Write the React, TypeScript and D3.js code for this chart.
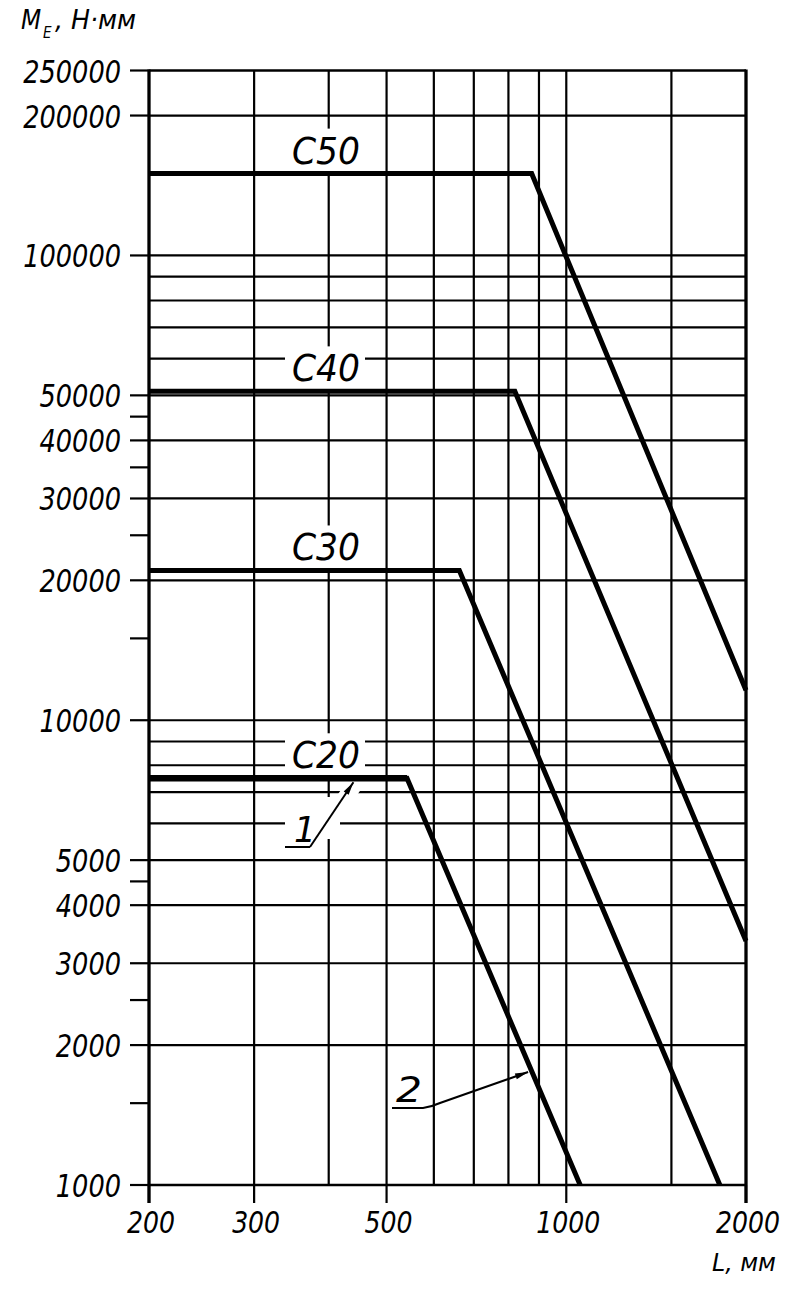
import * as d3 from 'd3';

// chart values
const seriesNames = ['C50', 'C40', 'C30', 'C20'];
const startL = [200, 200, 200, 200];
const flatM = [150000, 51000, 21000, 7500];
const breakL = [875, 820, 662, 541];
const endL = [2000, 2000, 1808, 1055];
const endM = [11600, 3350, 1000, 1000];

const xGrid = [300, 400, 500, 600, 700, 800, 900, 1000, 1500];
const xLabels = [200, 300, 500, 1000, 2000];
const yGrid = [
  200000, 100000, 90000, 80000, 70000, 60000, 50000, 40000, 30000, 20000,
  10000, 9000, 8000, 7000, 6000, 5000, 4000, 3000, 2000,
];
const yLabels = [250000, 200000, 100000, 50000, 40000, 30000, 20000, 10000, 5000, 4000, 3000, 2000, 1000];
const yMinor = [45000, 35000, 25000, 15000, 4500, 2500, 1500];

const W = 804;
const H = 1299;
const FONT = '"DejaVu Sans Condensed", "DejaVu Sans", sans-serif';

export default function App() {
  const x = d3.scaleLog().domain([200, 2000]).range([149, 746]);
  const y = d3.scaleLog().domain([1000, 250000]).range([1185, 70.5]);
  const [x0, x1] = x.range();
  const [y0, y1] = y.range();

  const line = d3
    .line<[number, number]>()
    .x((d) => x(d[0]))
    .y((d) => y(d[1]));

  const series = seriesNames.map((name, i) => ({
    name,
    points: [
      [startL[i], flatM[i]],
      [breakL[i], flatM[i]],
      [endL[i], endM[i]],
    ] as [number, number][],
  }));

  // ── annotation geometry ──
  const c20 = series[3];
  const tip1: [number, number] = [x(440), y(flatM[3]) + 4];
  // point on the sloped part of C20 at M = 1750
  const mArrow = 1750;
  const t = (Math.log(flatM[3]) - Math.log(mArrow)) / (Math.log(flatM[3]) - Math.log(endM[3]));
  const lArrow = Math.exp(Math.log(breakL[3]) + t * (Math.log(endL[3]) - Math.log(breakL[3])));
  const tip2: [number, number] = [x(lArrow) - 4, y(mArrow)];

  const arrowHead = (from: [number, number], tip: [number, number]) => {
    const dx = tip[0] - from[0];
    const dy = tip[1] - from[1];
    const len = Math.hypot(dx, dy);
    const ux = dx / len;
    const uy = dy / len;
    const bx = tip[0] - ux * 13;
    const by = tip[1] - uy * 13;
    return `M${tip[0]},${tip[1]}L${bx - uy * 3},${by + ux * 3}L${bx + uy * 3},${by - ux * 3}Z`;
  };

  const lead1Start: [number, number] = [310, 847];
  const lead2Path = `M392,1108L423,1108Q431,1107 440,1103L${tip2[0]},${tip2[1]}`;

  return (
    <svg width={W} height={H} style={{ position: 'absolute', left: 0, top: 0, background: '#fff' }}>
      <rect x={0} y={0} width={W} height={H} fill="#fff" />

      {/* ── grid ── */}
      <g stroke="#000" strokeWidth={2.2}>
        {yGrid.map((v) => (
          <line key={'hy' + v} x1={x0} x2={x1} y1={y(v)} y2={y(v)} />
        ))}
        {xGrid.map((v) => (
          <line key={'vx' + v} x1={x(v)} x2={x(v)} y1={y1} y2={y0} />
        ))}
        {xLabels.map((v) => (
          <line key={'tx' + v} x1={x(v)} x2={x(v)} y1={y0} y2={y0 + 18} />
        ))}
        {yLabels.map((v) => (
          <line key={'ty' + v} x1={130} x2={x0} y1={y(v)} y2={y(v)} />
        ))}
        {yMinor.map((v) => (
          <line key={'my' + v} x1={130} x2={x0} y1={y(v)} y2={y(v)} />
        ))}
        <line x1={x0} x2={x1} y1={y1} y2={y1} strokeWidth={2.5} />
        <line x1={x0} x2={x1} y1={y0} y2={y0} strokeWidth={2.6} />
        <line x1={x0} x2={x0} y1={y1 - 1} y2={y0 + 18} strokeWidth={3.3} />
        <line x1={x1} x2={x1} y1={y1 - 1} y2={y0 + 18} strokeWidth={3.3} />
      </g>

      {/* ── white backgrounds for labels ── */}
      <g fill="#fff">
        {series.map((s, i) => (
          <rect
            key={'bg' + s.name}
            x={285}
            y={y(flatM[i]) - 45}
            width={80}
            height={43}
          />
        ))}
        <rect x={285} y={797} width={55} height={42} />
      </g>
      <line
        x1={lead1Start[0]}
        y1={lead1Start[1]}
        x2={tip1[0]}
        y2={tip1[1] + 4}
        stroke="#fff"
        strokeWidth={16}
      />

      {/* ── curves ── */}
      <g fill="none" stroke="#000" strokeWidth={5} strokeLinejoin="miter">
        {series.map((s) => (
          <path key={s.name} d={line(s.points) ?? ''} />
        ))}
        <path d={line(c20.points.slice(0, 2)) ?? ''} strokeWidth={6.5} />
      </g>

      {/* ── series labels ── */}
      <g fontFamily={FONT} fontStyle="italic" fontSize={38} fill="#000">
        {series.map((s, i) => (
          <text
            key={'lbl' + s.name}
            x={292}
            y={y(flatM[i]) - 10}
            textLength={68}
            lengthAdjust="spacingAndGlyphs"
          >
            {s.name}
          </text>
        ))}
      </g>

      {/* ── annotations ── */}
      <g stroke="#000" strokeWidth={2} fill="none">
        <line x1={285} x2={lead1Start[0]} y1={847} y2={847} />
        <line x1={lead1Start[0]} y1={lead1Start[1]} x2={tip1[0]} y2={tip1[1]} />
        <path d={lead2Path} />
      </g>
      <path d={arrowHead(lead1Start, tip1)} fill="#000" />
      <path d={arrowHead([440, 1103], tip2)} fill="#000" />
      <g fontFamily={FONT} fontStyle="italic" fontSize={36} fill="#000">
        <text x={294} y={842} textLength={22} lengthAdjust="spacingAndGlyphs">1</text>
        <text x={396} y={1102} textLength={26} lengthAdjust="spacingAndGlyphs">2</text>
      </g>

      {/* ── tick labels ── */}
      <g fontFamily={FONT} fontStyle="italic" fontSize={32} fill="#000">
        {yLabels.map((v) => (
          <text
            key={'yl' + v}
            x={121}
            y={y(v) + 12}
            textAnchor="end"
            textLength={String(v).length * 16.3}
            lengthAdjust="spacingAndGlyphs"
          >
            {v}
          </text>
        ))}
        {xLabels.map((v) => (
          <text
            key={'xl' + v}
            x={x(v) + 2}
            y={1233}
            textAnchor="middle"
            textLength={String(v).length * 16}
            lengthAdjust="spacingAndGlyphs"
            fontSize={30}
          >
            {v}
          </text>
        ))}
      </g>

      {/* ── axis titles ── */}
      <g fontFamily={FONT} fontStyle="italic" fill="#000">
        <text x={21} y={29} fontSize={26}>M</text>
        <text x={43} y={38} fontSize={15}>E</text>
        <text x={55} y={29} fontSize={27} textLength={81} lengthAdjust="spacingAndGlyphs">, Н·мм</text>
        <text x={712} y={1271} fontSize={25} textLength={64} lengthAdjust="spacingAndGlyphs">L, мм</text>
      </g>
    </svg>
  );
}
